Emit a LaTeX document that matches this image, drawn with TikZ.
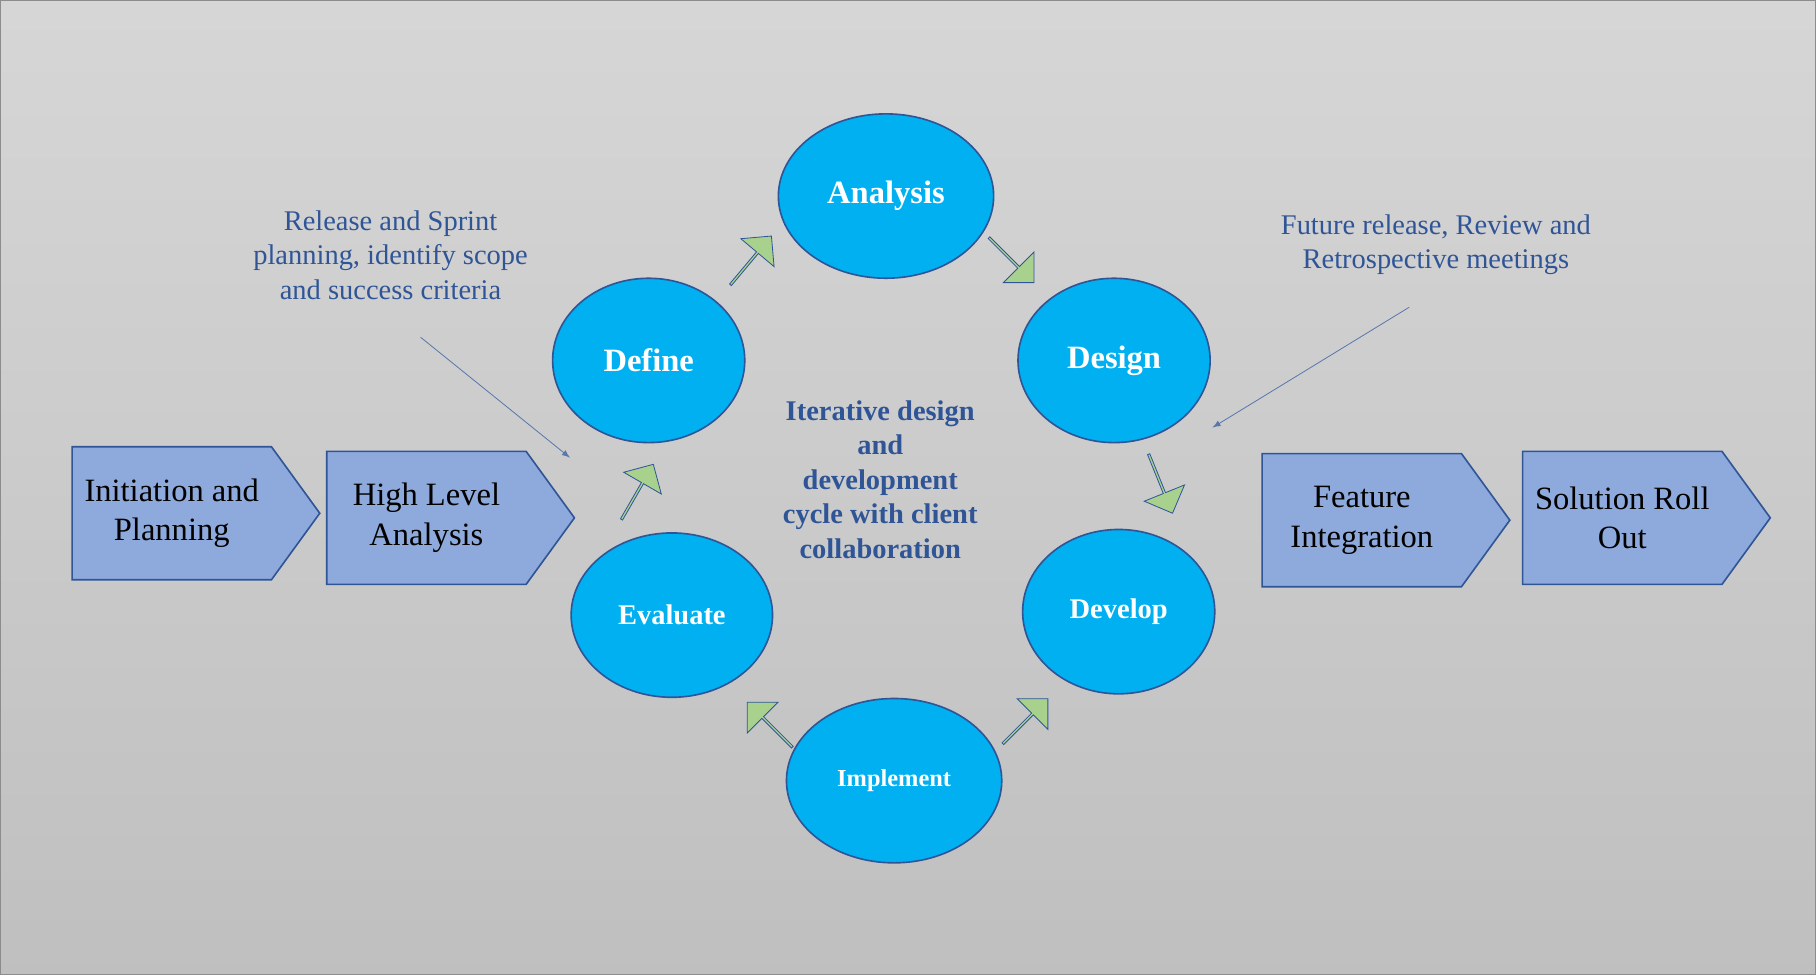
\documentclass[tikz,border=0pt]{standalone}
\usepackage{fontspec}
\setmainfont{Liberation Serif}
\usetikzlibrary{shapes.geometric,shapes.symbols,shapes.arrows}
\definecolor{skyfill}{HTML}{00B0F0}
\definecolor{navyline}{HTML}{2F5597}
\definecolor{stepfill}{HTML}{8EA9DB}
\definecolor{turnfill}{HTML}{A9D18E}
\definecolor{notecol}{HTML}{2F5597}
\begin{document}
\begin{tikzpicture}[x=0.02cm, y=-0.02cm,
	phase/.style={
		ellipse,
		draw = navyline,
		thick,
		fill = skyfill,
		text = white,
		font = \bfseries},
	stage/.style={
		signal,
		signal to = east,
		signal pointer angle = 108,
		draw = navyline,
		thick,
		fill = stepfill,
		minimum width = 4.28cm,
		minimum height = 2.3cm,
		align = center,
		font = \fontsize{16}{19.5}\selectfont},
	turn/.style={
		single arrow,
		draw = navyline,
		fill = turnfill,
		minimum height = 1.1cm,
		minimum width = 0.75cm,
		single arrow head extend = 0.12cm,
		inner sep = 0pt},
	note/.style={
		align = center,
		text = notecol,
		font = \fontsize{14}{17}\selectfont}]
	% background
	\shade[top color=black!16, bottom color=black!25, draw=black!45]
		(0, 0) rectangle (1568, 841);
	% phases of the cycle
	\node[phase, minimum width=3.72cm, minimum height=2.84cm, font=\fontsize{16}{19}\bfseries] (analysis) at (765, 169) {Analysis};
	\node[phase, minimum width=3.32cm, minimum height=2.84cm, font=\fontsize{16}{19}\bfseries] (define) at (560, 311) {Define};
	\node[phase, minimum width=3.32cm, minimum height=2.84cm, font=\fontsize{16}{19}\bfseries] (design) at (962, 311) {Design};
	\node[phase, minimum width=3.48cm, minimum height=2.84cm, font=\fontsize{14}{17}\bfseries] (evaluate) at (580, 531) {Evaluate};
	\node[phase, minimum width=3.32cm, minimum height=2.84cm, font=\fontsize{14}{17}\bfseries] (develop) at (966, 528) {Develop};
	\node[phase, minimum width=3.72cm, minimum height=2.84cm, font=\fontsize{12}{15}\bfseries] (implement) at (772, 674) {Implement};
	% turning arrows
	\node[turn, rotate=50] (t1) at (648, 225) {};
	\node[turn, rotate=-45] (t2) at (873, 224) {};
	\node[turn, rotate=-68] (t3) at (1002, 417) {};
	\node[turn, rotate=45] (t4) at (885, 623) {};
	\node[turn, rotate=135] (t5) at (665, 626) {};
	\node[turn, rotate=60] (t6) at (550, 425) {};
	% stages
	\node[stage] (init) at (148, 443) {Initiation and\\Planning};
	\node[stage] (high) at (368, 447) {High Level\\Analysis};
	\node[stage] (feature) at (1176, 449) {Feature\\Integration};
	\node[stage] (rollout) at (1401, 447) {Solution Roll\\Out};
	% notes
	\node[note] (leftnote) at (337, 220) {Release and Sprint\\planning, identify scope\\and success criteria};
	\node[note] (rightnote) at (1240, 211) {Future release, Review and\\Retrospective meetings};
	\node[note, font=\fontsize{14}{17}\bfseries] (centre) at (760, 414) {Iterative design\\and\\development\\cycle with client\\collaboration};
	\coordinate (lefttail) at (363, 291);
	\coordinate (lefthead) at (492, 395);
	\coordinate (righttail) at (1217, 265);
	\coordinate (righthead) at (1047, 369);
	\draw[-latex, navyline!80] (lefttail) -- (lefthead);
	\draw[-latex, navyline!80] (righttail) -- (righthead);
\end{tikzpicture}
\end{document}
